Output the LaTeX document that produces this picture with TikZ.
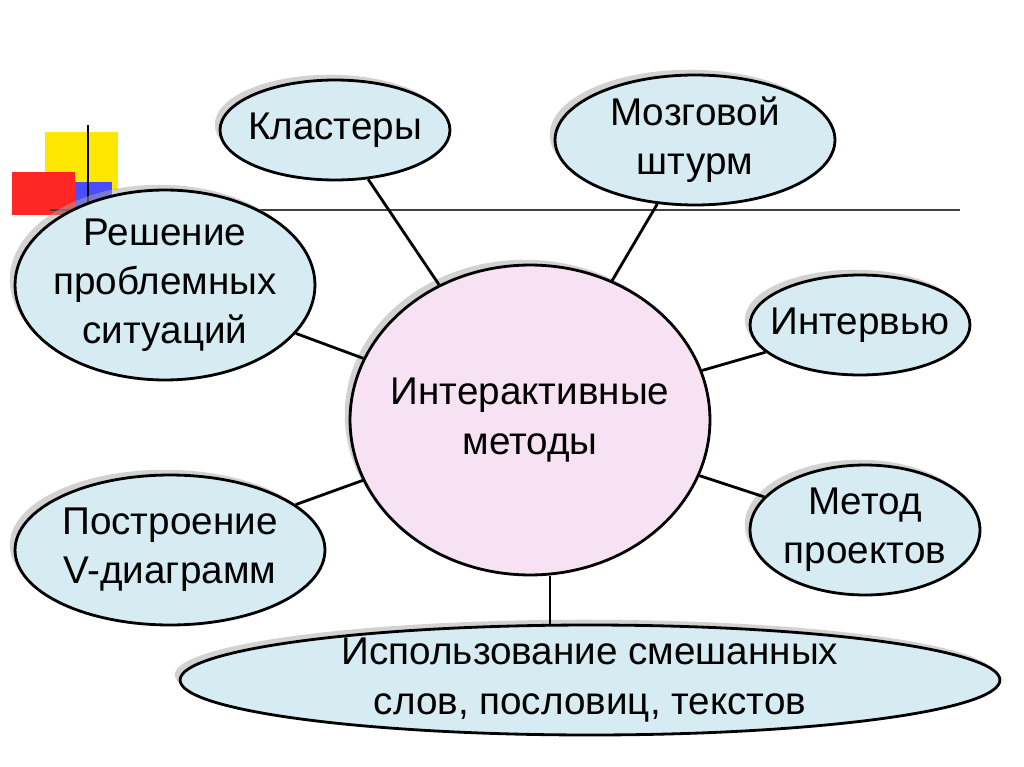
\documentclass[tikz,border=0pt]{standalone}
\usepackage{fontspec}
\setmainfont{Liberation Sans}
\usetikzlibrary{shapes.geometric,shadows}
\definecolor{bubble}{HTML}{D6ECF2}
\definecolor{core}{HTML}{F6E2F2}
\tikzset{
  method/.style={ellipse,draw,line width=1.6pt,fill=bubble,align=center,
    inner sep=-20pt,font=\fontsize{22}{28}\selectfont,
    drop shadow={shadow xshift=-3pt,shadow yshift=3pt,fill=gray!70}},
  link/.style={line width=1.6pt}
}
\begin{document}
\begin{tikzpicture}[x=0.02cm,y=-0.02cm]
  \useasboundingbox (0,0) rectangle (1024,767);
  \fill[white] (0,0) rectangle (1024,767);

  % corner marks
  \fill[yellow!90!orange] (45,132) rectangle (118,190);
  \fill[red!85!white] (12,172) rectangle (75,215);
  \fill[blue!70] (75,182) rectangle (112,207);
  \draw[line width=1.2pt] (88,125) -- (88,215);
  \draw[line width=1.2pt,black!75] (50,210) -- (960,210);

  \node[method,fill=core,minimum width=7.2cm,minimum height=6.2cm] (core) at (530,420) {Интерактивные\\методы};

  \node[method,minimum width=4.6cm,minimum height=2cm] (clust) at (335,130) {Кластеры};
  \node[method,minimum width=5.6cm,minimum height=2.6cm] (storm) at (695,140) {Мозговой\\штурм};
  \node[method,minimum width=6cm,minimum height=3.8cm] (solve) at (165,285) {Решение\\проблемных\\ситуаций};
  \node[method,minimum width=4.4cm,minimum height=2cm] (talk) at (860,325) {Интервью};
  \node[method,minimum width=4.6cm,minimum height=2.6cm] (proj) at (865,530) {Метод\\проектов};
  \node[method,minimum width=6.2cm,minimum height=3cm] (vdia) at (170,550) {Построение\\V-диаграмм};
  \node[method,minimum width=16.4cm,minimum height=2.2cm] (mixed) at (590,680) {Использование смешанных\\слов, пословиц, текстов};

  \draw[link] (clust) -- (core);
  \draw[link] (storm) -- (core);
  \draw[link] (solve) -- (core);
  \draw[link] (vdia) -- (core);
  \draw[link] (talk) -- (core);
  \draw[link] (proj) -- (core);
  \draw[link] (core.south) ++(20,0) coordinate (drop) -- (drop |- mixed.north);
\end{tikzpicture}
\end{document}
